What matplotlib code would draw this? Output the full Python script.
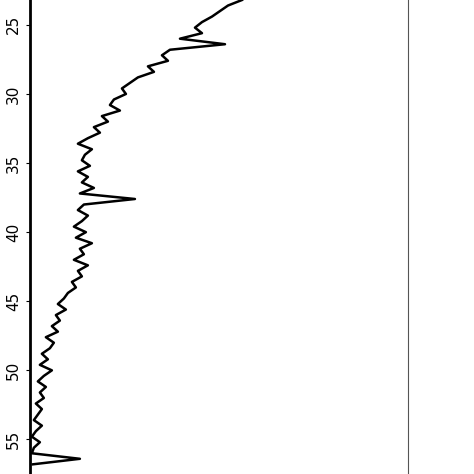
import matplotlib.pyplot as plt
import numpy as np

depth = np.round(np.arange(23.2, 57.0, 0.4), 2)
value = [212, 198, 190, 182, 172,
         165, 172, 150, 195, 140,
         132, 138, 118, 124, 108,
         100, 92, 96, 84, 80,
         90, 72, 78, 64, 70,
         58, 48, 62, 55, 52,
         60, 48, 58, 52, 64,
         50, 105, 54, 48, 58,
         52, 44, 56, 46, 62,
         50, 54, 44, 58, 48,
         52, 42, 46, 38, 34,
         28, 36, 26, 30, 22,
         28, 16, 24, 20, 12,
         18, 10, 22, 14, 8,
         16, 10, 14, 6, 12,
         8, 4, 12, 6, 2,
         10, 4, 2, 50, 3]
yticks = [25, 30, 35, 40, 45, 50, 55]

fig = plt.figure(figsize=(4.74, 4.74), dpi=100)
ax = fig.add_axes([0.063, 0.0, 0.798, 1.0])
ax.plot(value, depth[:len(value)], color="black", lw=1.8)
ax.set_xlim(0, 378)
ax.set_ylim(57.5, 23.2)
ax.set_yticks(yticks)
ax.set_yticklabels([str(t) for t in yticks], rotation=90, va="center", fontsize=11)
ax.set_xticks([])
ax.spines["top"].set_visible(False)
ax.spines["bottom"].set_visible(False)
ax.spines["left"].set_linewidth(2)
ax.spines["right"].set_color("#555555")
ax.tick_params(axis="y", direction="out", length=3)
fig.savefig("out.png", dpi=100)
